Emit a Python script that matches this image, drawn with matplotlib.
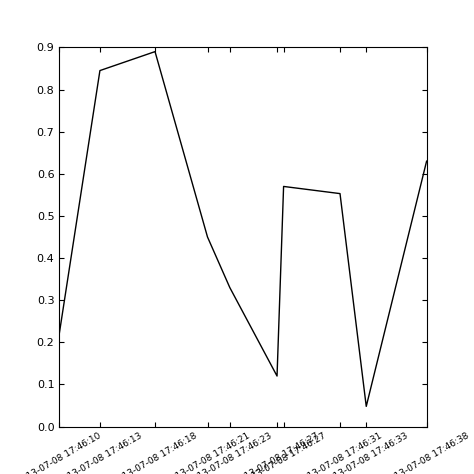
import matplotlib
matplotlib.use("Agg")
import matplotlib.pyplot as plt
import pandas as pd

times = ["2013-07-08 17:46:10.0", "2013-07-08 17:46:13.1", "2013-07-08 17:46:17.3",
         "2013-07-08 17:46:21.3", "2013-07-08 17:46:23.0", "2013-07-08 17:46:26.6",
         "2013-07-08 17:46:27.1", "2013-07-08 17:46:31.4", "2013-07-08 17:46:33.4",
         "2013-07-08 17:46:38.0"]
values = [0.22, 0.845, 0.89, 0.45, 0.33, 0.12, 0.57, 0.553, 0.048, 0.63]
tick_labels = ["2013-07-08 17:46:10", "2013-07-08 17:46:13", "2013-07-08 17:46:18",
               "2013-07-08 17:46:21", "2013-07-08 17:46:23", "2013-07-08 17:46:27",
               "2013-07-08 17:46:27", "2013-07-08 17:46:31", "2013-07-08 17:46:33",
               "2013-07-08 17:46:38"]

t = pd.to_datetime(times)
fig = plt.figure(figsize=(4.74, 4.74), dpi=100)
ax = fig.add_axes([0.125, 0.1, 0.775, 0.8])
ax.plot(t, values, color="black", linewidth=1)
ax.set_xlim(t[0], t[-1])
ax.set_ylim(0, 0.9)
ax.set_xticks(t)
ax.set_xticklabels(tick_labels, rotation=30, ha="center", fontsize=6.5)
ax.tick_params(axis="y", labelsize=8)
ax.tick_params(direction="in", top=True, right=True)
fig.savefig("out.png", dpi=100)
